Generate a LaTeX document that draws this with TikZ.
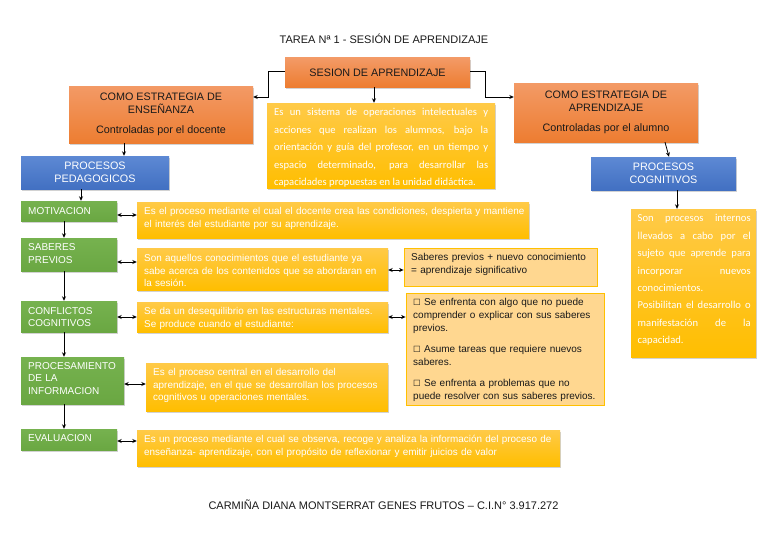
\documentclass[tikz,border=0pt]{standalone}
\usepackage{fontspec}
\setmainfont{Liberation Sans}
\newfontfamily\calib{Carlito}
\newfontfamily\djv{DejaVu Sans}
\usetikzlibrary{arrows.meta,shadows}
\definecolor{orA}{HTML}{F39A66}
\definecolor{orB}{HTML}{ED7D31}
\definecolor{blA}{HTML}{5D89D4}
\definecolor{blB}{HTML}{4270C2}
\definecolor{grA}{HTML}{76B24F}
\definecolor{grB}{HTML}{6AA742}
\definecolor{yeA}{HTML}{FFCA48}
\definecolor{yeB}{HTML}{FFBE00}
\definecolor{paleF}{HTML}{FFD790}
\definecolor{paleD}{HTML}{FFC000}
\definecolor{ink}{HTML}{1A1A1A}
\tikzset{
  base/.style={inner sep=0pt, draw=none, drop shadow={shadow xshift=1.3pt, shadow yshift=-1.6pt, opacity=0.35}},
  orangebox/.style={base, top color=orA, bottom color=orB, text=ink, font=\fontsize{10.8}{12.8}\selectfont, align=center},
  bluebox/.style={base, top color=blA, bottom color=blB, text=white, font=\fontsize{10.8}{13.5}\selectfont, align=center},
  greenbox/.style={base, top color=grA, bottom color=grB},
  yellowbox/.style={base, top color=yeA, bottom color=yeB},
  palebox/.style={inner sep=0pt, fill=paleF, draw=paleD, line width=0.8pt},
  gtext/.style={anchor=base west, inner sep=0pt, text=white, text width=100pt, font=\fontsize{10}{12.5}\selectfont, align=left},
  ytext/.style={anchor=base west, inner sep=0pt, text=white, text width=430pt, font=\fontsize{9.9}{12.3}\selectfont, align=left},
  ptext/.style={anchor=base west, inner sep=0pt, text=ink, text width=200pt, font=\fontsize{10}{12.8}\selectfont, align=left},
  jtext/.style={anchor=base west, inner sep=0pt, text=white, font=\calib\fontsize{10.6}{17.4}\selectfont, align=justify},
  plain/.style={inner sep=0pt, text=ink, font=\fontsize{11}{12}\selectfont},
  arr/.style={-{Stealth[length=4.5pt,width=4pt]}, line width=0.8pt},
  darr/.style={{Stealth[length=4.5pt,width=4pt]}-{Stealth[length=4.5pt,width=4pt]}, line width=0.8pt},
}
\newcommand\chk{{\djv\fontsize{8.5}{10}\selectfont ☐}}
\begin{document}
\begin{tikzpicture}[x=1pt,y=-1pt]
\useasboundingbox[fill=white] (0,0) rectangle (768,543);

\node[plain] (title) at (384,39) {TAREA Nª 1 - SESIÓN DE APRENDIZAJE};
\node[plain] (foot) at (383.5,505) {CARMIÑA DIANA MONTSERRAT GENES FRUTOS – C.I.N° 3.917.272};

% ---------- boxes ----------
\node[orangebox, minimum width=185, minimum height=29] (ses) at (377.5,72.5) {SESION DE APRENDIZAJE};
\node[orangebox, minimum width=184, minimum height=57] (ens) at (161,114.5)
  {COMO ESTRATEGIA DE\\ENSEÑANZA\\[8pt]Controladas por el docente};
\node[orangebox, minimum width=184, minimum height=59] (apr) at (606,112.5)
  {COMO ESTRATEGIA DE\\APRENDIZAJE\\[8pt]Controladas por el alumno};
\node[yellowbox, minimum width=228, minimum height=85] (def) at (381,145.5) {};
\node[bluebox, minimum width=148, minimum height=33] (ped) at (95,172.5) {PROCESOS\\PEDAGOGICOS};
\node[bluebox, minimum width=145, minimum height=33] (cog) at (663.5,173.5) {PROCESOS\\COGNITIVOS};
\node[yellowbox, minimum width=125, minimum height=148] (cogdef) at (693.5,283) {};

\node[greenbox, minimum width=96, minimum height=20] (mot) at (69,211) {};
\node[greenbox, minimum width=96, minimum height=33] (sab) at (69,254.5) {};
\node[greenbox, minimum width=96, minimum height=31] (con) at (69,316.5) {};
\node[greenbox, minimum width=103, minimum height=47] (pro) at (72.5,380.5) {};
\node[greenbox, minimum width=96, minimum height=21] (eva) at (69,439.5) {};

\node[yellowbox, minimum width=392, minimum height=36] (motdef) at (333,220) {};
\node[yellowbox, minimum width=251, minimum height=42] (sabdef) at (262.5,269) {};
\node[yellowbox, minimum width=251, minimum height=30] (condef) at (262.5,317) {};
\node[yellowbox, minimum width=242, minimum height=48] (prodef) at (267,387) {};
\node[yellowbox, minimum width=423, minimum height=36] (evadef) at (348.5,448) {};

\node[palebox, minimum width=193, minimum height=38] (sig) at (500.5,267) {};
\node[palebox, minimum width=198, minimum height=112] (lst) at (505,349) {};

% ---------- texts ----------
\node[jtext, text width=214] (defT) at (274,115.8)
  {Es un sistema de operaciones intelectuales y\linebreak
   acciones que realizan los alumnos, bajo la\linebreak
   orientación y guía del profesor, en un tiempo y\linebreak
   espacio determinado, para desarrollar las\linebreak
   capacidades propuestas en la unidad didáctica.};
\node[jtext, text width=113] (cogdefT) at (637.5,221.8)
  {Son procesos internos\linebreak
   llevados a cabo por el\linebreak
   sujeto que aprende para\linebreak
   incorporar nuevos\linebreak
   conocimientos.\par
   Posibilitan el desarrollo o\linebreak
   manifestación de la\linebreak
   capacidad.};

\node[gtext] (motT) at (28,214.3) {MOTIVACION};
\node[gtext] (sabT) at (28,250.8) {SABERES\\PREVIOS};
\node[gtext] (conT) at (28,314.2) {CONFLICTOS\\COGNITIVOS};
\node[gtext] (proT) at (28,369.2) {PROCESAMIENTO\\DE LA\\INFORMACION};
\node[gtext] (evaT) at (28,441.2) {EVALUACION};

\node[ytext] (motdefT) at (144,214.8)
  {Es el proceso mediante el cual el docente crea las condiciones, despierta y mantiene\\el interés del estudiante por su aprendizaje.};
\node[ytext] (sabdefT) at (144,261.8)
  {Son aquellos conocimientos que el estudiante ya\\sabe acerca de los contenidos que se abordaran en\\la sesión.};
\node[ytext] (condefT) at (144,314.8)
  {Se da un desequilibrio en las estructuras mentales.\\Se produce cuando el estudiante:};
\node[ytext] (prodefT) at (153,375.8)
  {Es el proceso central en el desarrollo del\\aprendizaje, en el que se desarrollan los procesos\\cognitivos u operaciones mentales.};
\node[ytext] (evadefT) at (144,442.8)
  {Es un proceso mediante el cual se observa, recoge y analiza la información del proceso de\\enseñanza- aprendizaje, con el propósito de reflexionar y emitir juicios de valor};

\node[ptext] (sigT) at (411,260.8) {Saberes previos + nuevo conocimiento\\= aprendizaje significativo};
\node[ptext] (lstT) at (413,305.8)
  {\chk\ Se enfrenta con algo que no puede\\comprender o explicar con sus saberes\\previos.\\[8.3pt]
   \chk\ Asume tareas que requiere nuevos\\saberes.\\[8.3pt]
   \chk\ Se enfrenta a problemas que no\\puede resolver con sus saberes previos.};

% ---------- connectors ----------
\draw[arr] (ses.west |- 0,71) -- (268,71) |- (ens.east |- 0,97);
\draw[arr] (ses.east |- 0,71) -- (485,71) |- (apr.west |- 0,97);
\draw[arr] (ses.south -| 374,0) -- (def.north -| 374,0);
\draw[arr] (ens.south -| 124,0) -- (ped.north -| 124,0);
\draw[arr] (apr.south -| 665,0) -- (cog.north -| 669,0);
\draw[arr] (cog.south -| 677,0) -- (cogdef.north -| 677,0);
\draw[arr] (ped.south -| 81,0) -- (mot.north -| 81,0);
\draw[arr] (mot.south -| 64,0) -- (sab.north -| 64,0);
\draw[arr] (sab.south -| 64,0) -- (con.north -| 64,0);
\draw[arr] (con.south -| 64,0) -- (pro.north -| 64,0);
\draw[arr] (pro.south -| 64,0) -- (eva.north -| 64,0);

\draw[darr] (mot.east |- 0,215) -- (motdef.west |- 0,215);
\draw[darr] (sab.east |- 0,262) -- (sabdef.west |- 0,262);
\draw[darr] (con.east |- 0,317) -- (condef.west |- 0,317);
\draw[darr] (pro.east |- 0,384) -- (prodef.west |- 0,384);
\draw[darr] (eva.east |- 0,441) -- (evadef.west |- 0,441);
\draw[darr] (sabdef.east |- 0,270) -- (sig.west |- 0,270);
\draw[darr] (condef.east |- 0,317) -- (lst.west |- 0,317);
\end{tikzpicture}
\end{document}
